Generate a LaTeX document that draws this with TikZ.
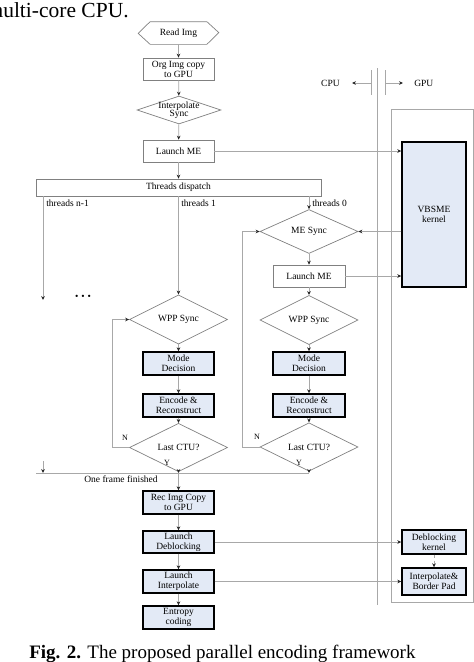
\documentclass[tikz,border=0pt]{standalone}
\usepackage{fontspec}
\setmainfont{Liberation Serif}
\usepackage{tikz}
\usetikzlibrary{arrows.meta, shapes.geometric}
\definecolor{kernelblue}{HTML}{E3EAF6}
\definecolor{lightline}{HTML}{A8A8A8}

\begin{document}
\begin{tikzpicture}[x = 1pt, y = -1pt, line width = 0.7pt,
                        font = \fontsize{9.5}{10}\selectfont,
                        flow/.style = {draw = lightline, -{Stealth[length = 4pt, width = 3.6pt, color = black!85]}},
                        rule/.style = {draw = lightline},
                        plainbox/.style = {rectangle, draw = gray, fill = white, align = center, inner sep = 1pt, minimum width = 71pt, minimum height = 22pt},
                        bluebox/.style = {rectangle, draw = black, line width = 1.4pt, fill = kernelblue, align = center, inner sep = 1pt, minimum width = 71pt, minimum height = 23pt},
                        decision/.style = {diamond, draw = gray, fill = white, align = center, inner sep = 0pt, minimum width = 98pt, minimum height = 33pt},
                        tag/.style = {inner sep = 0pt, font = \fontsize{8}{9}\selectfont}]
      \useasboundingbox (0, 0) rectangle (474, 662);

      % text cut from the page
      \node [anchor = base east, inner sep = 0pt, font = \fontsize{21.5}{22}\selectfont] (pagetext) at (129, 17) {multi-core CPU.};

      % CPU side, main thread
      \node [inner sep = 0pt, minimum width = 56pt, minimum height = 22pt] (read) at (178.5, 33) {Read Img};
      \draw [draw = gray] (read.north west) -- (read.north east) -- ++(12, 11) -- (read.south east)
                          -- (read.south west) -- ++(-12, -11) -- cycle;
      \node [plainbox] (orgcopy) at (178.5, 69) {Org Img copy\\to GPU};
      \node [decision, minimum width = 84pt, minimum height = 28pt, label = {center:\begin{tabular}{@{}c@{}}Interpolate\\[-2pt]Sync\end{tabular}}] (interpsync) at (179, 110) {};
      \node [plainbox] (launchme) at (178.5, 151) {Launch ME};
      \node [plainbox, minimum width = 285pt, minimum height = 17pt] (dispatch) at (178.5, 187.5) {Threads dispatch};

      \draw [flow] (read) -- (orgcopy);
      \draw [flow] (orgcopy) -- (interpsync);
      \draw [flow] (interpsync) -- (launchme);
      \draw [flow] (launchme) -- (dispatch);

      % threads
      \node [anchor = west, inner sep = 0pt] (labn) at (46, 203) {threads n-1};
      \node [anchor = west, inner sep = 0pt] (lab1) at (181, 203) {threads 1};
      \node [anchor = west, inner sep = 0pt] (lab0) at (312, 203) {threads 0};
      \coordinate (tn) at (43, 300);
      \node [inner sep = 0pt] (dots) at (83, 297) {\textbullet\hspace{3pt}\textbullet\hspace{3pt}\textbullet};

      % thread 0
      \node [decision] (mesync) at (309, 231.5) {ME Sync};
      \node [plainbox, minimum width = 72pt] (launchme0) at (309, 276) {Launch ME};
      \node [decision, minimum height = 34pt] (wpp0) at (309, 320) {WPP Sync};
      \node [bluebox, minimum width = 72pt] (mode0) at (309, 363.5) {Mode\\Decision};
      \node [bluebox, minimum width = 72pt] (enc0) at (309, 405.5) {Encode \&\\Reconstruct};
      \node [decision, minimum height = 30pt] (last0) at (309, 447) {Last CTU?};

      % thread 1
      \node [decision] (wpp1) at (178.5, 319.5) {WPP Sync};
      \node [bluebox] (mode1) at (178.5, 363.5) {Mode\\Decision};
      \node [bluebox] (enc1) at (178.5, 405.5) {Encode \&\\Reconstruct};
      \node [decision, minimum height = 29pt] (last1) at (178.5, 447.5) {Last CTU?};

      \draw [flow] (dispatch.south -| tn) -- (tn);
      \draw [flow] (dispatch.south -| wpp1) -- (wpp1);
      \draw [flow] (dispatch.south -| mesync) -- (mesync);
      \draw [flow] (mesync) -- (launchme0);
      \draw [flow] (launchme0) -- (wpp0);
      \draw [flow] (wpp0) -- (mode0);
      \draw [flow] (mode0) -- (enc0);
      \draw [flow] (enc0) -- (last0);
      \draw [flow] (wpp1) -- (mode1);
      \draw [flow] (mode1) -- (enc1);
      \draw [flow] (enc1) -- (last1);
      \draw [flow] (last1.west) -- ++(-17, 0) |- (wpp1.west);
      \draw [flow] (last0.west) -- ++(-17, 0) |- (mesync.west);
      \node [tag] (n1) at (125, 438) {N};
      \node [tag] (n0) at (257, 437) {N};
      \node [tag] (y1) at (167, 463) {Y};
      \node [tag] (y0) at (299, 463) {Y};

      % frame end
      \coordinate (fl) at (36, 473);
      \coordinate (fr) at (309, 473);
      \coordinate (nend) at (43, 461);
      \draw [rule] (fl) -- (fr);
      \draw [flow] (nend) -- (nend |- fl);
      \draw [flow] (last1) -- (last1 |- fl);
      \draw [flow] (last0) -- (fr);
      \node [anchor = west, inner sep = 0pt] (finished) at (84, 479) {One frame finished};

      \node [bluebox] (reccopy) at (178.5, 502.5) {Rec Img Copy\\to GPU};
      \node [bluebox, minimum height = 22pt] (launchdb) at (178.5, 542) {Launch\\Deblocking};
      \node [bluebox] (launchip) at (178.5, 581.5) {Launch\\Interpolate};
      \node [bluebox] (entropy) at (178.5, 617.5) {Entropy\\coding};
      \draw [flow] (last1 |- fl) -- (reccopy);
      \draw [flow] (reccopy) -- (launchdb);
      \draw [flow] (launchdb) -- (launchip);
      \draw [flow] (launchip) -- (entropy);

      % CPU / GPU border
      \draw [rule] (377.7, 68) -- (377.7, 605);
      \draw [rule] (371, 70) -- (371, 95);
      \draw [rule] (385, 70) -- (385, 95);
      \coordinate (cpuend) at (352, 83);
      \coordinate (gpuend) at (403, 83);
      \draw [flow] (371, 83) -- (cpuend);
      \draw [flow] (385, 83) -- (gpuend);
      \node [anchor = east, inner sep = 0pt] (cpu) at (340, 83) {CPU};
      \node [anchor = west, inner sep = 0pt] (gpu) at (414, 83) {GPU};

      % GPU side
      \draw [rule] (391.5, 109) rectangle (473.5, 602);
      \node [bluebox, minimum width = 64pt, minimum height = 145pt] (vbsme) at (434, 214.5) {VBSME\\kernel};
      \node [bluebox, minimum width = 64pt, minimum height = 24pt] (dbkernel) at (434, 542) {Deblocking\\kernel};
      \node [bluebox, minimum width = 64pt, minimum height = 27pt] (ipkernel) at (434, 581.5) {Interpolate\&\\Border Pad};

      \draw [flow] (launchme) -- (launchme -| vbsme.west);
      \draw [flow] (launchme0) -- (launchme0 -| vbsme.west);
      \draw [flow] (vbsme.west |- mesync) -- (mesync);
      \draw [flow] (launchdb) -- (dbkernel);
      \draw [flow] (launchip) -- (ipkernel);
      \draw [flow, dashed] (dbkernel) -- (ipkernel);

      % caption
      \node [anchor = base west, inner sep = 0pt, font = \fontsize{19}{20}\selectfont] (caption) at (29, 658) {\textbf{Fig. 2.} The proposed parallel encoding framework};
    \end{tikzpicture}
\end{document}
